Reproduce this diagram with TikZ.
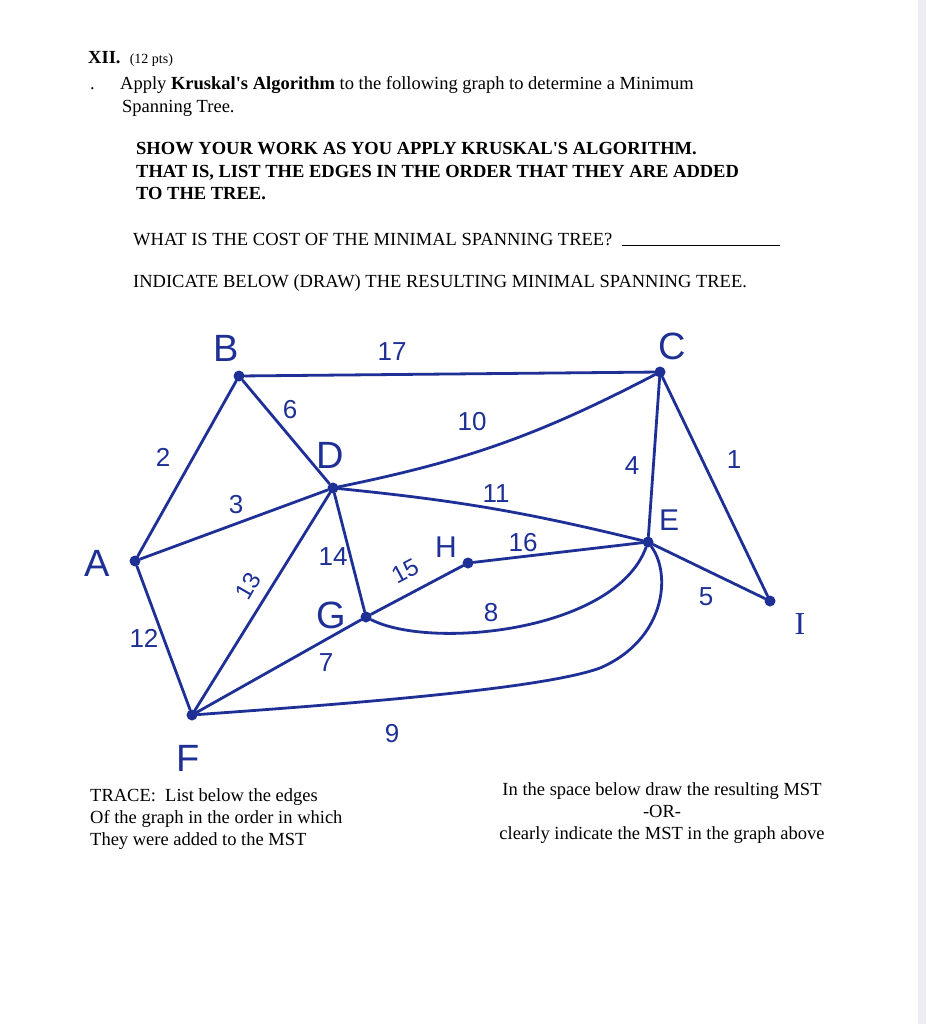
\documentclass[tikz,border=0pt]{standalone}
\usepackage{fontspec}
\setmainfont{Liberation Serif}
\newfontfamily\hand{Liberation Sans}
\definecolor{ink}{RGB}{30,48,150}
\definecolor{edgegray}{RGB}{236,238,244}
\begin{document}
\begin{tikzpicture}[x=1pt,y=-1pt,
  vertex/.style={circle, fill=ink, inner sep=0pt, minimum size=11pt},
  edge/.style={draw=ink, line width=2.8pt, line cap=round, line join=round},
  vlabel/.style={text=ink, inner sep=0pt, font=\hand\fontsize{38}{38}\selectfont},
  wlabel/.style={text=ink, inner sep=0pt, font=\hand\fontsize{26}{26}\selectfont},
  txt/.style={anchor=base west, inner sep=0pt, font=\fontsize{18.5}{22}\selectfont},
  ctxt/.style={anchor=base, inner sep=0pt, font=\fontsize{18.5}{22}\selectfont}]
\useasboundingbox (0,0) rectangle (926,1024);
\fill[white] (0,0) rectangle (926,1024);
\fill[edgegray] (918,0) rectangle (926,1024);

% header text
\node[txt] (t1) at (88,64) {\textbf{XII.}\ \ {\fontsize{14}{16}\selectfont (12 pts)}};
\node[txt] (t2) at (90,90) {.};
\node[txt] (t3) at (120,90) {Apply \textbf{Kruskal\textquotesingle s Algorithm} to the following graph to determine a Minimum};
\node[txt] (t4) at (122,113) {Spanning Tree.};
\node[txt, font=\fontsize{18.5}{22}\selectfont\bfseries] (t5) at (136,155) {SHOW YOUR WORK AS YOU APPLY KRUSKAL\textquotesingle S ALGORITHM.};
\node[txt, font=\fontsize{18.5}{22}\selectfont\bfseries] (t6) at (136,178) {THAT IS, LIST THE EDGES IN THE ORDER THAT THEY ARE ADDED};
\node[txt, font=\fontsize{18.5}{22}\selectfont\bfseries] (t7) at (136,200) {TO THE TREE.};
\node[txt] (t8) at (133,245) {WHAT IS THE COST OF THE MINIMAL SPANNING TREE?};
\draw[line width=0.9pt] (622,245) -- (780,245);
\node[txt] (t9) at (133,287) {INDICATE BELOW (DRAW) THE RESULTING MINIMAL SPANNING TREE.};

% bottom text
\node[txt] (b1) at (90,801) {TRACE:\ \ List below the edges};
\node[txt] (b2) at (90,823) {Of the graph in the order in which};
\node[txt] (b3) at (90,845) {They were added to the MST};
\node[ctxt] (r1) at (662,795) {In the space below draw the resulting MST};
\node[ctxt] (r2) at (662,817) {-OR-};
\node[ctxt] (r3) at (662,839) {clearly indicate the MST in the graph above};

% vertices
\node[vertex] (A) at (135,561) {};
\node[vertex] (B) at (239,376) {};
\node[vertex] (C) at (660,372) {};
\node[vertex] (D) at (333,488) {};
\node[vertex] (E) at (648,542) {};
\node[vertex] (F) at (192,715) {};
\node[vertex] (G) at (366,617) {};
\node[vertex] (H) at (468,563) {};
\node[vertex] (I) at (770,601) {};

% vertex labels
\node[vlabel] (lA) at (97,563) {A};
\node[vlabel] (lB) at (226,348) {B};
\node[vlabel] (lC) at (672,346) {C};
\node[vlabel] (lD) at (330,455) {D};
\node[vlabel, font=\hand\fontsize{30}{30}\selectfont] (lE) at (669,520) {E};
\node[vlabel] (lF) at (188,758) {F};
\node[vlabel] (lG) at (331,615) {G};
\node[vlabel, font=\hand\fontsize{30}{30}\selectfont] (lH) at (446,547) {H};
\node[vlabel, font=\fontsize{32}{32}\selectfont] (lI) at (800,624) {I};

% edges
\draw[edge] (B) -- (C);
\draw[edge] (B) -- (A);
\draw[edge] (B) -- (D);
\draw[edge] (D) to[bend right=8] (C);
\draw[edge] (A) -- (D);
\draw[edge] (D) to[bend left=4] (E);
\draw[edge] (D) -- (G);
\draw[edge] (D) -- (F);
\draw[edge] (A) -- (F);
\draw[edge] (F) -- (G);
\draw[edge] (G) -- (H);
\draw[edge] (H) -- (E);
\draw[edge] (C) -- (E);
\draw[edge] (C) -- (I);
\draw[edge] (E) -- (I);
\draw[edge] (G) .. controls (430,650) and (615,632) .. (E);
\draw[edge] (E) .. controls (672,575) and (665,640) .. (600,668)
                .. controls (540,690) and (330,705) .. (F);

% edge weights
\node[wlabel] (w17) at (392,352) {17};
\node[wlabel] (w6) at (290,410) {6};
\node[wlabel] (w10) at (472,422) {10};
\node[wlabel] (w2) at (163,457) {2};
\node[wlabel] (w3) at (236,505) {3};
\node[wlabel] (w11) at (496,494) {11};
\node[wlabel] (w4) at (632,466) {4};
\node[wlabel] (w1) at (734,460) {1};
\node[wlabel] (w14) at (333,557) {14};
\node[wlabel, font=\hand\fontsize{24}{24}\selectfont, rotate=60] (w13) at (248,586) {13};
\node[wlabel, font=\hand\fontsize{24}{24}\selectfont, rotate=28] (w15) at (405,571) {15};
\node[wlabel] (w16) at (523,543) {16};
\node[wlabel] (w5) at (706,597) {5};
\node[wlabel] (w8) at (491,613) {8};
\node[wlabel] (w7) at (326,663) {7};
\node[wlabel] (w12) at (144,638) {12};
\node[wlabel] (w9) at (392,734) {9};
\end{tikzpicture}
\end{document}
